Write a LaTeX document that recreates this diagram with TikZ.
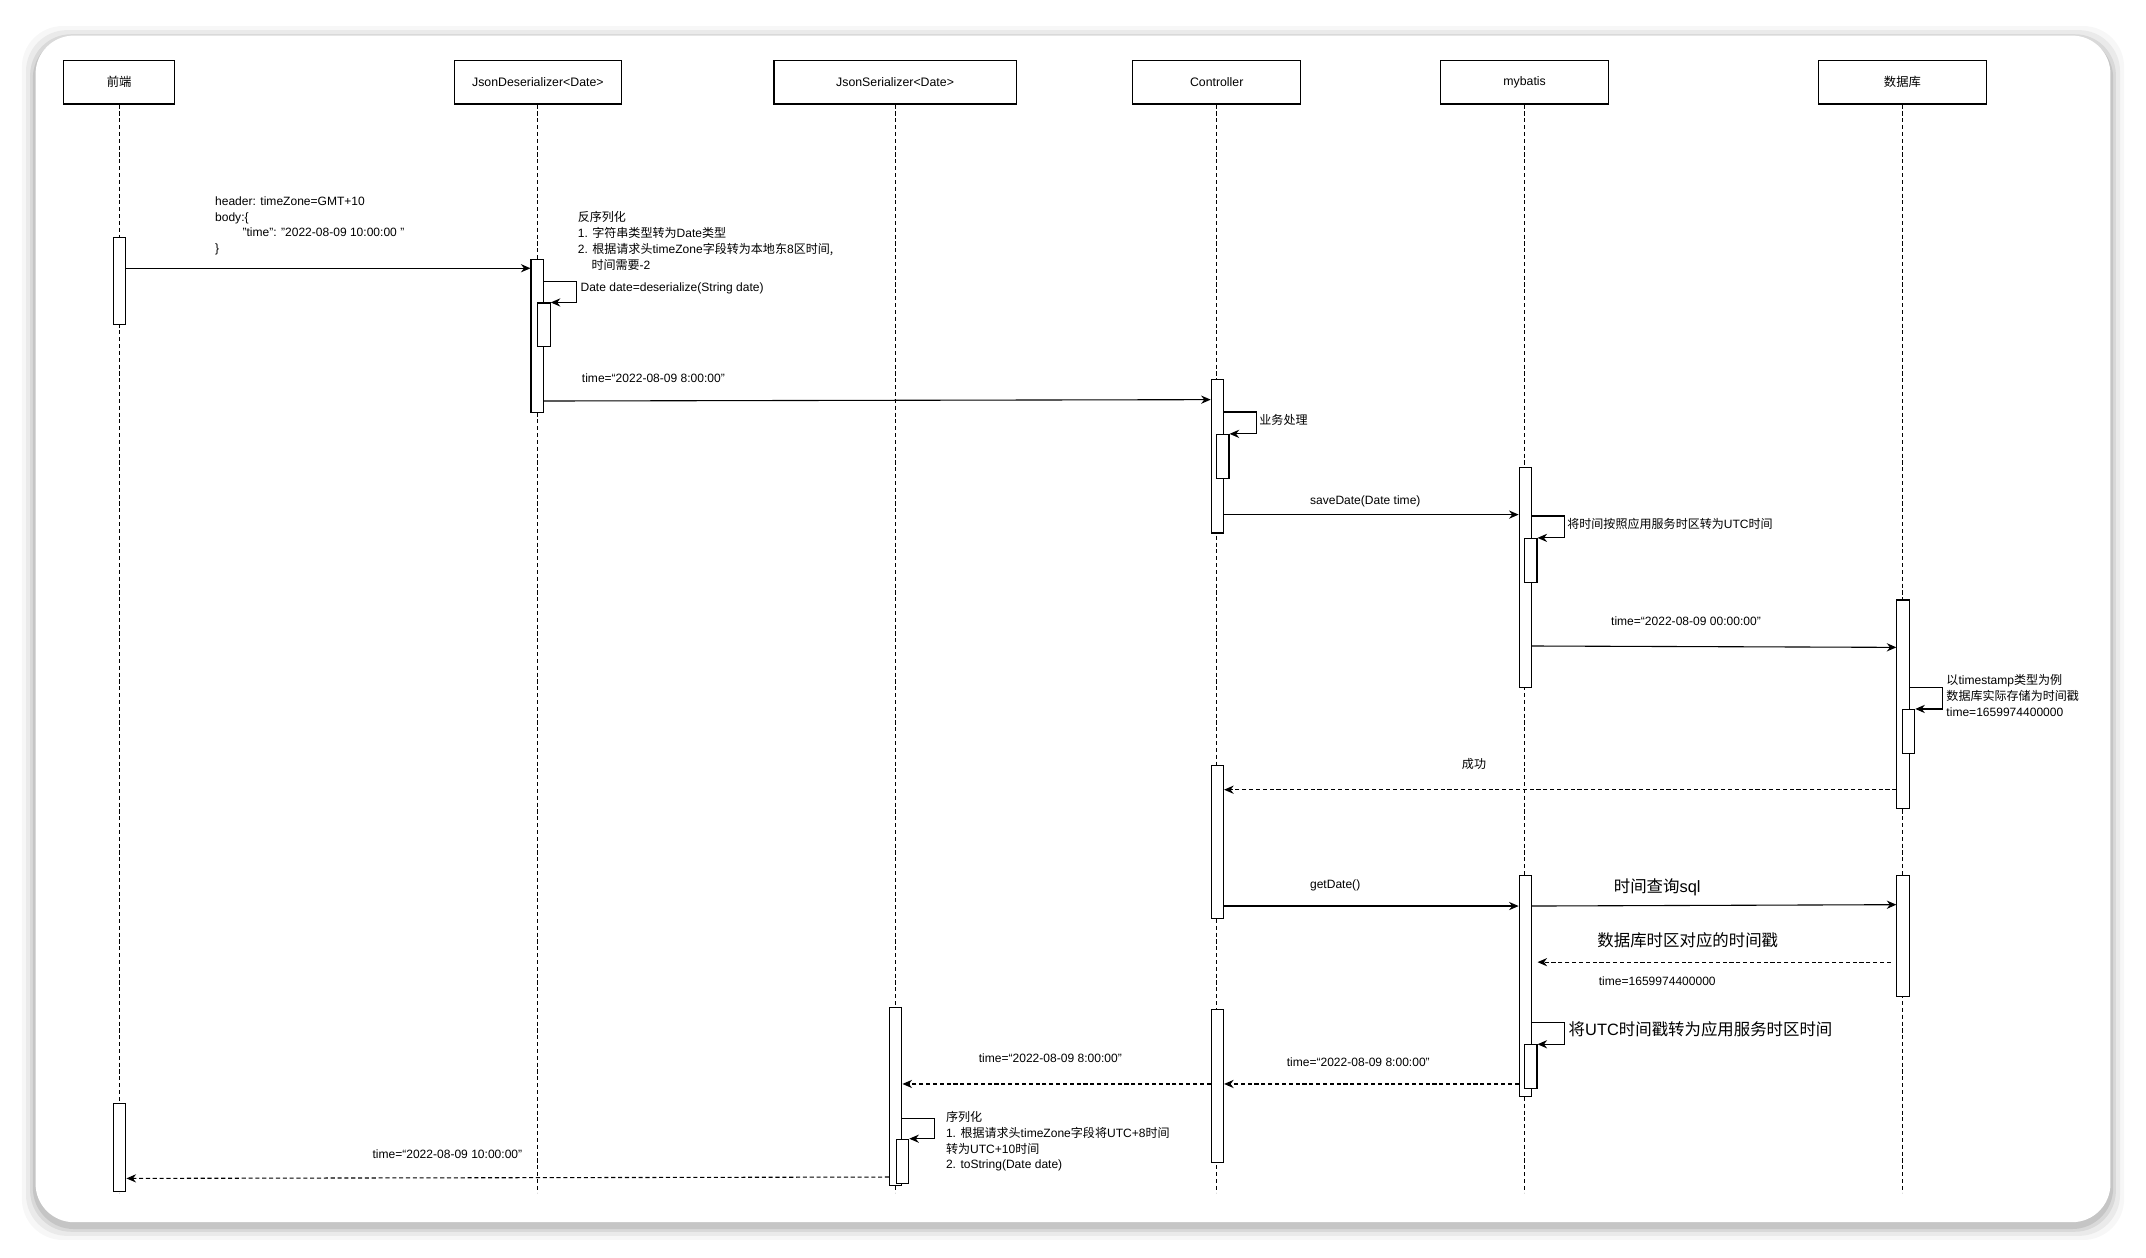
\documentclass[tikz,border=0pt]{standalone}
\usepackage{fontspec}
\setmainfont{Liberation Sans}
\newfontfamily\cj{Noto Sans CJK SC}
\usetikzlibrary{arrows.meta}
\begin{document}
\begin{tikzpicture}[x=1pt,y=-1pt,
  hdr/.style={draw,line width=0.8pt,minimum width=#1,minimum height=32pt,inner sep=0pt,font=\fontsize{9}{10}\selectfont},
  act/.style={draw,fill=white,line width=0.8pt,minimum width=9pt,inner sep=0pt,anchor=north},
  life/.style={densely dashed,line width=0.6pt},
  msg/.style={line width=0.8pt,-{Stealth[length=7pt,width=6pt]}},
  ret/.style={msg,densely dashed},
  lbl/.style={font=\fontsize{8.8}{11.5}\selectfont,inner sep=0pt,anchor=west,align=left},
  big/.style={font=\fontsize{12}{13}\selectfont,inner sep=0pt,anchor=west}]
\useasboundingbox (0,0) rectangle (1568,919);
\fill[white] (0,0) rectangle (1568,919);
\foreach \i/\o in {10/0.03,7/0.05,4/0.07,2/0.09}{
 \fill[black,opacity=\o,rounded corners=30pt] (26-\i,26-\i+3) rectangle (1542+\i,893+\i+3);}
\fill[white,rounded corners=28pt] (26,26) rectangle (1542,893);
% headers
\node[hdr=81pt] (h1) at (87,60) {\cj 前端};
\node[hdr=122pt] (h2) at (393,60) {JsonDeserializer<Date>};
\node[hdr=177pt] (h3) at (654,60) {JsonSerializer<Date>};
\node[hdr=123pt] (h4) at (889,60) {Controller};
\node[hdr=123pt] (h5) at (1114,60) {mybatis};
\node[hdr=123pt] (h6) at (1390,60) {\cj 数据库};
\foreach \h in {h1,h2,h3,h4,h5,h6}{\draw[life] (\h.south) -- ++(0,795);}
% activations
\node[act,minimum height=64pt] (a1) at (87.5,173) {};
\node[act,minimum height=64pt] (a2) at (87.5,806) {};
\node[act,minimum height=112pt] (b1) at (392.5,189) {};
\node[act,minimum height=32pt] (b2) at (397.5,221) {};
\node[act,minimum height=112pt] (c1) at (889.5,277) {};
\node[act,minimum height=32pt] (c2) at (893.5,317) {};
\node[act,minimum height=112pt] (c3) at (889.5,559) {};
\node[act,minimum height=112pt] (c4) at (889.5,737) {};
\node[act,minimum height=161pt] (m1) at (1114.5,341) {};
\node[act,minimum height=32pt] (m2) at (1118.5,393) {};
\node[act,minimum height=162pt] (m3) at (1114.5,639) {};
\node[act,minimum height=32pt] (m4) at (1118.5,763) {};
\node[act,minimum height=152pt] (d1) at (1390.5,438) {};
\node[act,minimum height=32pt] (d2) at (1394.5,518) {};
\node[act,minimum height=89pt] (d3) at (1390.5,639) {};
\node[act,minimum height=130pt] (s1) at (654.5,736) {};
\node[act,minimum height=32pt] (s2) at (659.5,832) {};
% messages
\draw[msg] (a1.east |- 0,196) -- (b1.west |- 0,196);
\node[lbl] (t1) at (157,165) {header: timeZone=GMT+10\\body:\{\\\hspace{20pt}"time": "2022-08-09 10:00:00 "\\\}};
\draw[msg] (b1.east |- 0,206) -| (421,221) -- (b2.east |- 0,221);
\node[lbl] (t2) at (424,211) {Date date=deserialize(String date)};
\node[lbl] (t3) at (422,176) {{\cj 反序列化}\\1. {\cj 字符串类型转为}Date{\cj 类型}\\2. {\cj 根据请求头}timeZone{\cj 字段转为本地东}8{\cj 区时间}{\cj ,}\\\hspace{10pt}{\cj 时间需要}-2};
\draw[msg] (b1.east |- 0,293) -- (c1.west |- 0,292);
\node[lbl] (t4) at (425,276) {time=“2022-08-09 8:00:00”};
\draw[msg] (c1.east |- 0,301) -| (918,317) -- (c2.east |- 0,317);
\node[lbl] (t5) at (920,307) {\cj 业务处理};
\draw[msg] (c1.east |- 0,376) -- (m1.west |- 0,376);
\node[lbl] (t6) at (957,366) {saveDate(Date time)};
\draw[msg] (m1.east |- 0,377) -| (1143,393) -- (m2.east |- 0,393);
\node[lbl] (t7) at (1145,383) {{\cj 将时间按照应用服务时区转为}UTC{\cj 时间}};
\draw[msg] (m1.east |- 0,472) -- (d1.west |- 0,473);
\node[lbl] (t8) at (1177,454) {time=“2022-08-09 00:00:00”};
\draw[msg] (d1.east |- 0,502) -| (1419,518) -- (d2.east |- 0,518);
\node[lbl] (t9) at (1422,508) {{\cj 以}timestamp{\cj 类型为例}\\{\cj 数据库实际存储为时间戳}\\time=1659974400000};
\draw[ret] (d1.west |- 0,577) -- (c3.east |- 0,577);
\node[lbl] (t10) at (1068,558) {\cj 成功};
\draw[msg] (c3.east |- 0,662) -- (m3.west |- 0,662);
\node[lbl] (t11) at (957,647) {getDate()};
\draw[msg] (m3.east |- 0,662) -- (d3.west |- 0,661);
\node[big] (t12) at (1179,648) {{\cj 时间查询}sql};
\draw[ret] ([xshift=-4pt]d3.west |- 0,703) -- ([xshift=4pt]m3.east |- 0,703);
\node[big] (t13) at (1167,687) {\cj 数据库时区对应的时间戳};
\node[lbl] (t14) at (1168,717) {time=1659974400000};
\draw[msg] (m3.east |- 0,747) -| (1143,763) -- (m4.east |- 0,763);
\node[big] (t15) at (1146,752) {{\cj 将}UTC{\cj 时间戳转为应用服务时区时间}};
\draw[ret] (m3.west |- 0,792) -- (c4.east |- 0,792);
\node[lbl] (t16) at (940,776) {time=“2022-08-09 8:00:00”};
\draw[ret] (c4.west |- 0,792) -- (s1.east |- 0,792);
\node[lbl] (t17) at (715,773) {time=“2022-08-09 8:00:00”};
\draw[msg] (s1.east |- 0,817) -| (683,832) -- (s2.east |- 0,832);
\node[lbl] (t18) at (691,834) {{\cj 序列化}\\1. {\cj 根据请求头}timeZone{\cj 字段将}UTC+8{\cj 时间}\\{\cj 转为}UTC+10{\cj 时间}\\2. toString(Date date)};
\draw[ret] (s1.west |- 0,860) -- (a2.east |- 0,861);
\node[lbl] (t19) at (272,843) {time=“2022-08-09 10:00:00”};
\end{tikzpicture}
\end{document}
